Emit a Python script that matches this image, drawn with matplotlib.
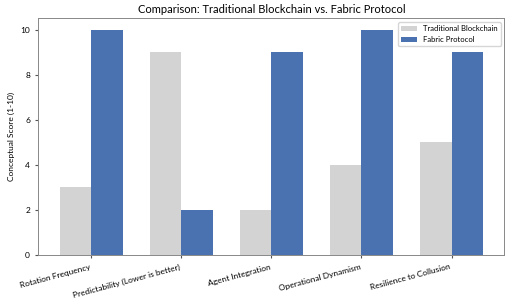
import numpy as np
import matplotlib.pyplot as plt

# Data
categories = ['Rotation Frequency', 'Predictability (Lower is better)', 'Agent Integration',
              'Operational Dynamism', 'Resilience to Collusion']
traditional = [3, 9, 2, 4, 5]
fabric = [10, 2, 9, 10, 9]

plt.rcParams['font.family'] = ['Lato', 'DejaVu Sans']

x = np.arange(len(categories))
width = 0.35

fig, ax = plt.subplots(figsize=(5.12, 3.07), dpi=100)
ax.bar(x - width / 2, traditional, width, color='#d3d3d3', label='Traditional Blockchain')
ax.bar(x + width / 2, fabric, width, color='#4a72b0', label='Fabric Protocol')

ax.set_title('Comparison: Traditional Blockchain vs. Fabric Protocol', fontsize=8, pad=4)
ax.set_ylabel('Conceptual Score (1-10)', fontsize=6)
ax.set_xticks(x)
ax.set_xticklabels(categories, rotation=15, ha='right', fontsize=6)
ax.tick_params(axis='y', labelsize=6)
ax.tick_params(length=2.5, color='#555555')
for s in ax.spines.values():
    s.set_color('#888888')
    s.set_linewidth(0.7)
ax.legend(fontsize=5.5, loc='upper right', frameon=True, edgecolor='#cccccc')

fig.subplots_adjust(left=0.075, right=0.985, top=0.94, bottom=0.17)
plt.savefig('out.png')
